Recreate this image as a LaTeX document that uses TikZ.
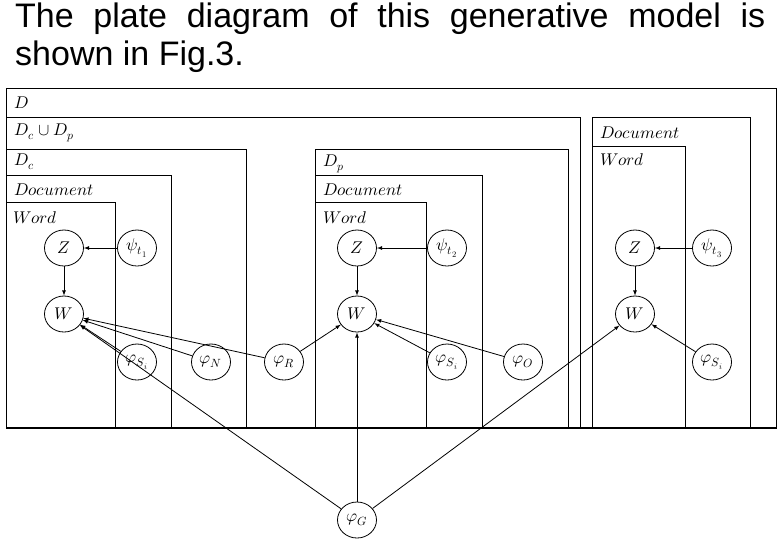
\documentclass[tikz,border=0pt]{standalone}
\usepackage{fontspec}
\usepackage{unicode-math}
\setmathfont{Latin Modern Math}
\newfontfamily\titlefont{Liberation Sans}
\usetikzlibrary{shapes.geometric}
\begin{document}
\begin{tikzpicture}[x=1pt,y=-1pt,
  plate/.style={draw,line width=0.9pt},
  var/.style={draw,ellipse,line width=0.8pt,minimum width=39pt,minimum height=36pt,inner sep=0pt,font=\fontsize{17}{19}\selectfont},
  lab/.style={anchor=west,inner sep=0pt,font=\fontsize{17}{19}\selectfont},
  arr/.style={-latex,line width=0.8pt}]
\useasboundingbox (0,0) rectangle (783,550);
\node[anchor=north west,inner sep=0pt,text width=750pt,align=justify,font=\titlefont\fontsize{34}{38}\selectfont] (title) at (15,3)
 {The plate diagram of this generative model is\linebreak shown in Fig.3.};
% plates
\draw[plate] (6,88) rectangle (776,428);
\draw[plate] (6,117) -- (580,117) -- (580,428);
\draw[plate] (6,149) -- (246,149) -- (246,428);
\draw[plate] (6,175) -- (171,175) -- (171,428);
\draw[plate] (6,202) -- (115,202) -- (115,428);
\draw[plate] (315,428) -- (315,149) -- (568,149) -- (568,428);
\draw[plate] (315,175) -- (482,175) -- (482,428);
\draw[plate] (315,202) -- (426,202) -- (426,428);
\draw[plate] (592,428) -- (592,117) -- (750,117) -- (750,428);
\draw[plate] (592,146) -- (685,146) -- (685,428);
\draw[line width=1.6pt] (6,428) -- (776,428);
\node[lab] (lD) at (14,103) {$D$};
\node[lab] (lDcp) at (14,133) {$D_c\cup D_p$};
\node[lab] (lDc) at (14,162) {$D_c$};
\node[lab] (lDoc1) at (14,190) {$Document$};
\node[lab] (lW1) at (13,218) {$Word$};
\node[lab] (lDp) at (323,164) {$D_p$};
\node[lab] (lDoc2) at (323,190) {$Document$};
\node[lab] (lW2) at (323,218) {$Word$};
\node[lab] (lDoc3) at (600,133) {$Document$};
\node[lab] (lW3) at (600,160) {$Word$};
% nodes
\node[var] (Z1) at (64,248) {$Z$};
\node[var] (P1) at (137,248) {$\psi_{t_1}$};
\node[var] (W1) at (64,314) {$W$};
\node[var] (S1) at (137,362) {$\varphi_{S_i}$};
\node[var] (N) at (211,362) {$\varphi_N$};
\node[var] (R) at (284,362) {$\varphi_R$};
\node[var] (Z2) at (357,248) {$Z$};
\node[var] (P2) at (447,248) {$\psi_{t_2}$};
\node[var] (W2) at (357,314) {$W$};
\node[var] (S2) at (447,362) {$\varphi_{S_i}$};
\node[var] (O) at (523,362) {$\varphi_O$};
\node[var] (Z3) at (635,248) {$Z$};
\node[var] (P3) at (712,248) {$\psi_{t_3}$};
\node[var] (W3) at (635,314) {$W$};
\node[var] (S3) at (712,362) {$\varphi_{S_i}$};
\node[var] (G) at (357,520) {$\varphi_G$};
% edges
\foreach \a/\b in {P1/Z1,Z1/W1,S1/W1,N/W1,R/W1,G/W1,P2/Z2,Z2/W2,R/W2,S2/W2,O/W2,G/W2,P3/Z3,Z3/W3,S3/W3,G/W3}
  \draw[arr] (\a) -- (\b);
\end{tikzpicture}
\end{document}
